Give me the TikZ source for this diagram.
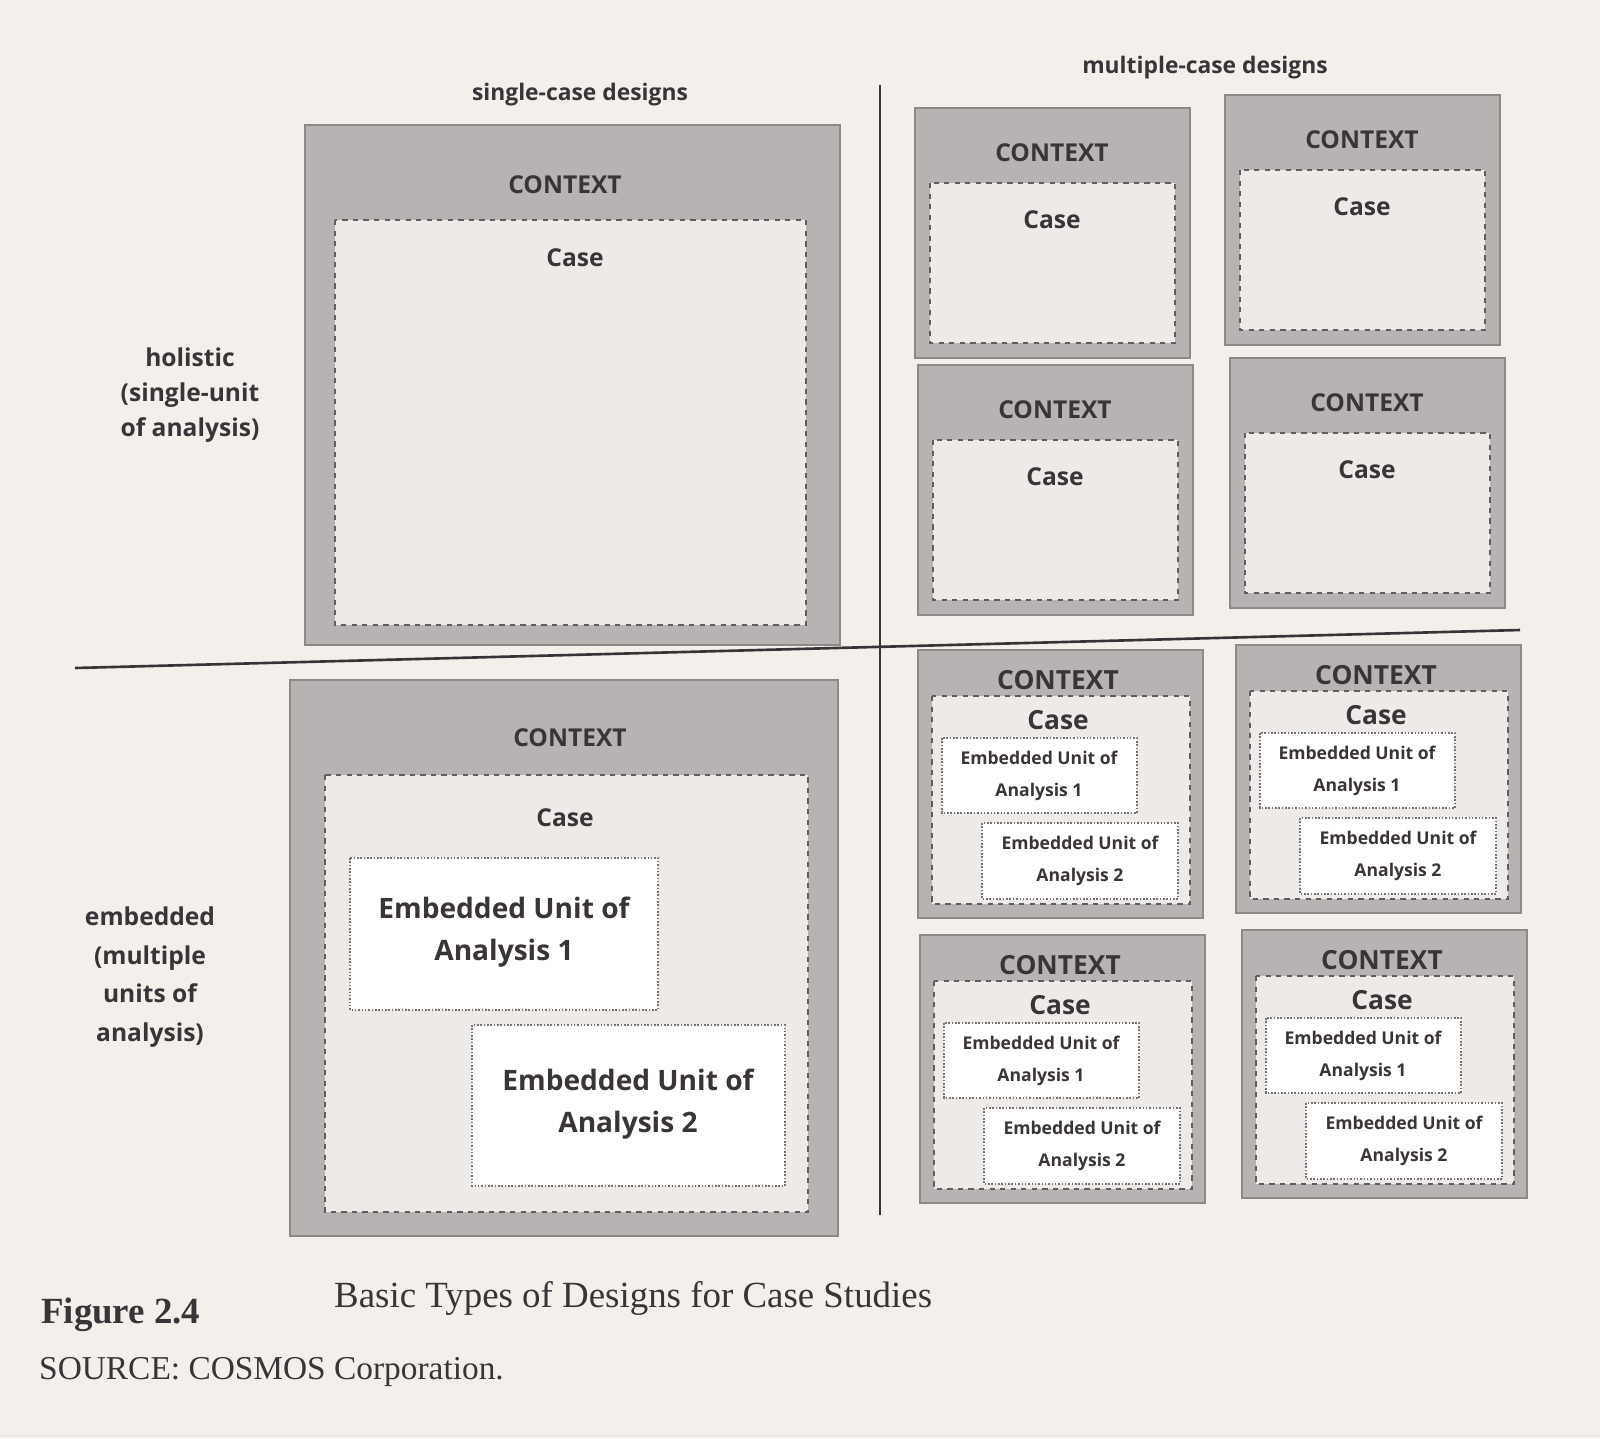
\documentclass[tikz,border=0pt]{standalone}
\usepackage{fontspec}
\setmainfont{Liberation Serif}
\newfontfamily\dfont{Open Sans}
\definecolor{pagebg}{HTML}{F3F0EC}
\definecolor{ctxfill}{HTML}{B8B3B3}
\definecolor{ctxline}{HTML}{8E8888}
\definecolor{casefill}{HTML}{EEEAE8}
\definecolor{ink}{HTML}{3A3338}
\tikzset{
  ctx/.style={fill=ctxfill,draw=ctxline,line width=1.2pt},
  casebox/.style={fill=casefill,draw=ink!80,dashed,line width=0.9pt},
  eubox/.style={fill=white,draw=ink!70,densely dotted,line width=0.9pt},
  lbl/.style={text=ink,font=\dfont\bfseries,align=center},
}
\newcommand{\smallctx}[2]{% top-left x,y ; size 275x250
  \draw[ctx] (#1,#2) rectangle ++(275,250);
  \draw[casebox] (#1+15,#2+75) rectangle ++(245,160);
  \node[lbl,font=\dfont\bfseries\fontsize{14}{16}\selectfont] at (#1+137,#2+45) {CONTEXT};
  \node[lbl,font=\dfont\bfseries\fontsize{14}{16}\selectfont] at (#1+137,#2+112) {Case};
}
\newcommand{\smallemb}[2]{% top-left; size 285x268
  \draw[ctx] (#1,#2) rectangle ++(285,268);
  \draw[casebox] (#1+14,#2+46) rectangle ++(258,208);
  \node[lbl,font=\dfont\bfseries\fontsize{15}{17}\selectfont] at (#1+140,#2+30) {CONTEXT};
  \node[lbl,font=\dfont\bfseries\fontsize{15}{17}\selectfont] at (#1+140,#2+70) {Case};
  \draw[eubox] (#1+24,#2+88) rectangle ++(195,75);
  \node[lbl,font=\dfont\bfseries\fontsize{10}{18}\selectfont] at (#1+121,#2+126) {Embedded Unit of\\Analysis 1};
  \draw[eubox] (#1+64,#2+173) rectangle ++(196,76);
  \node[lbl,font=\dfont\bfseries\fontsize{10}{18}\selectfont] at (#1+162,#2+211) {Embedded Unit of\\Analysis 2};
}
\begin{document}
\begin{tikzpicture}[x=0.02cm,y=-0.02cm]
\fill[pagebg] (0,0) rectangle (1600,1438);
\useasboundingbox (0,0) rectangle (1600,1438);
% headings
\node[lbl,font=\dfont\bfseries\fontsize{13}{15}\selectfont] (h1) at (580,95) {single-case designs};
\node[lbl,font=\dfont\bfseries\fontsize{13}{15}\selectfont] (h2) at (1205,68) {multiple-case designs};
\node[lbl,font=\dfont\bfseries\fontsize{14}{20}\selectfont] (r1) at (190,395) {holistic\\(single-unit\\of analysis)};
\node[lbl,font=\dfont\bfseries\fontsize{14}{22}\selectfont] (r2) at (150,977) {embedded\\(multiple\\units of\\analysis)};
% top-left holistic single
\draw[ctx] (305,125) rectangle (840,645);
\draw[casebox] (335,220) rectangle (806,625);
\node[lbl,font=\dfont\bfseries\fontsize{14}{16}\selectfont] (c1) at (565,185) {CONTEXT};
\node[lbl,font=\dfont\bfseries\fontsize{14}{16}\selectfont] (k1) at (575,258) {Case};
% bottom-left embedded single
\draw[ctx] (290,680) rectangle (838,1236);
\draw[casebox] (325,775) rectangle (808,1212);
\node[lbl,font=\dfont\bfseries\fontsize{14}{16}\selectfont] (c2) at (570,738) {CONTEXT};
\node[lbl,font=\dfont\bfseries\fontsize{14}{16}\selectfont] (k2) at (565,818) {Case};
\draw[eubox] (350,858) rectangle (658,1010);
\node[lbl,font=\dfont\bfseries\fontsize{16}{24}\selectfont] (e1) at (504,932) {Embedded Unit of\\Analysis 1};
\draw[eubox] (472,1025) rectangle (785,1186);
\node[lbl,font=\dfont\bfseries\fontsize{16}{24}\selectfont] (e2) at (628,1104) {Embedded Unit of\\Analysis 2};
% top-right multiple holistic
\smallctx{915}{108}
\smallctx{1225}{95}
\smallctx{918}{365}
\smallctx{1230}{358}
% bottom-right multiple embedded
\smallemb{918}{650}
\smallemb{1236}{645}
\smallemb{920}{935}
\smallemb{1242}{930}
% dividers
\draw[ink,line width=1.5pt] (880,85) -- (880,1215);
\draw[ink,line width=1.5pt] (75,668) -- (1520,630);
% caption
\node[anchor=west,font=\bfseries\fontsize{21}{24}\selectfont,text=ink] (fig) at (35,1315) {Figure 2.4};
\node[anchor=west,font=\fontsize{21}{24}\selectfont,text=ink] (cap) at (328,1298) {Basic Types of Designs for Case Studies};
\node[anchor=west,font=\fontsize{19}{22}\selectfont,text=ink] (src) at (33,1372) {SOURCE: COSMOS Corporation.};
\end{tikzpicture}
\end{document}
